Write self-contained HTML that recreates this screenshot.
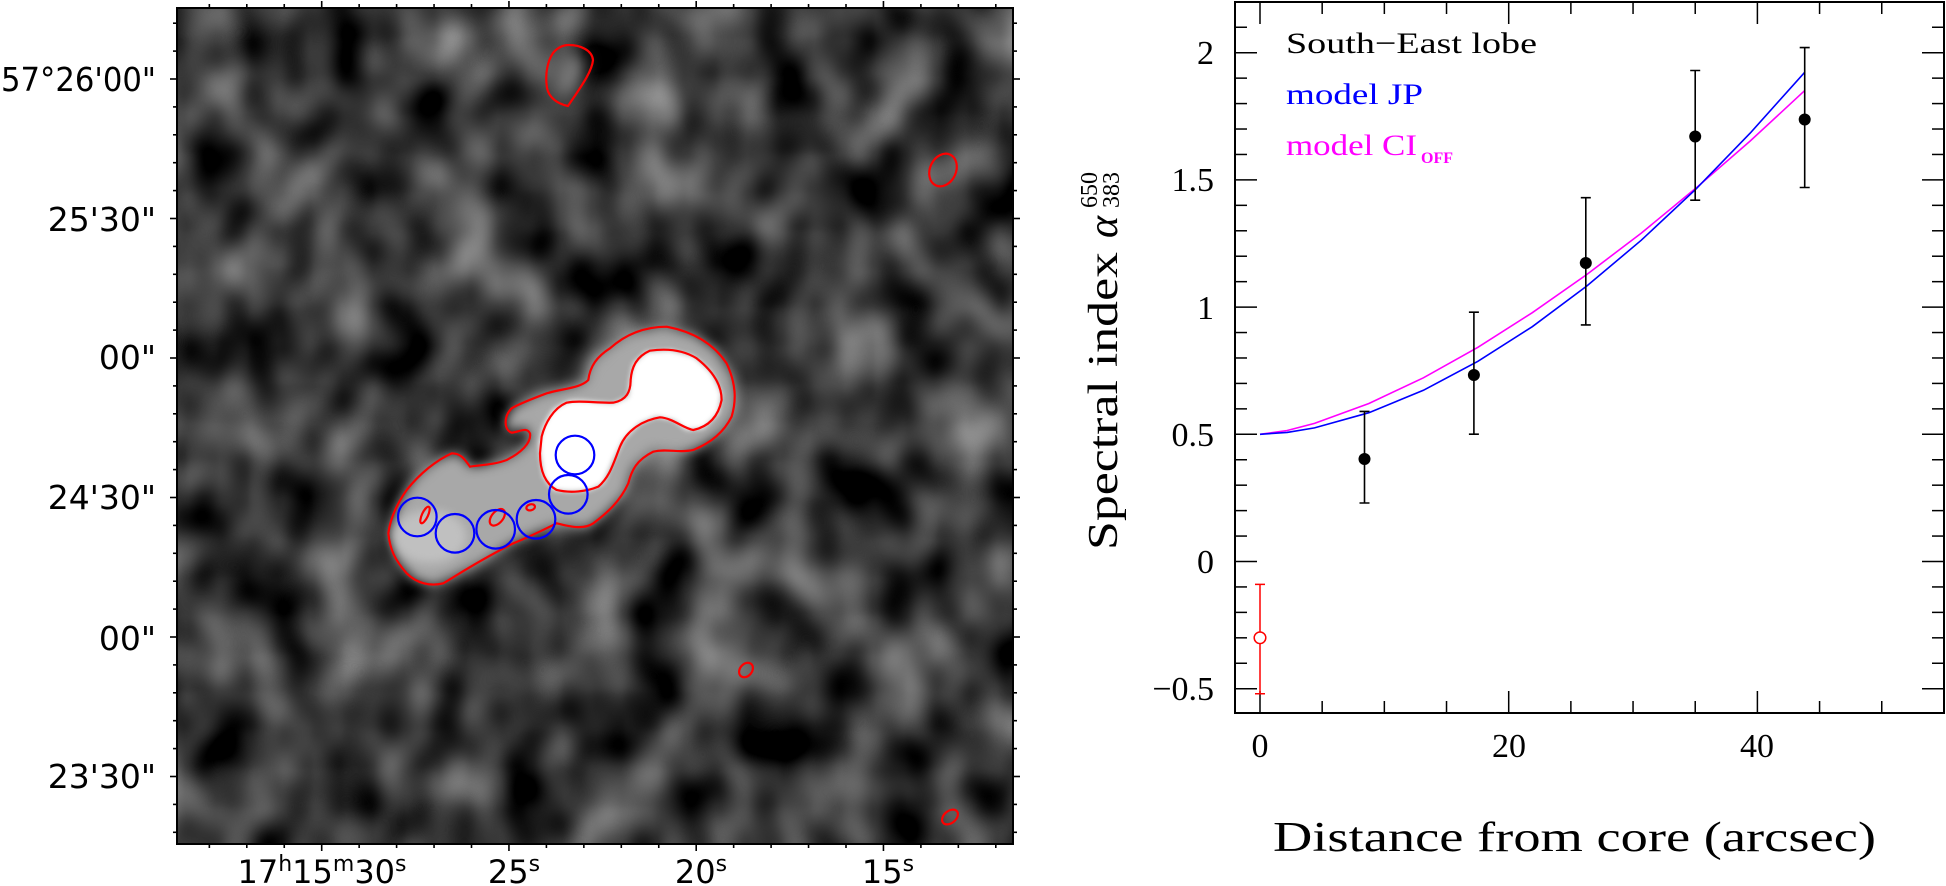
<!DOCTYPE html>
<html><head><meta charset="utf-8">
<style>
html,body{margin:0;padding:0;background:#fff;}
svg{display:block;}
</style></head>
<body>
<svg id="s" width="1946" height="886" viewBox="0 0 1946 886" xmlns="http://www.w3.org/2000/svg">
<defs>
<clipPath id="imgclip"><rect x="177" y="8" width="836" height="836"/></clipPath>
<filter id="noise" x="177" y="8" width="836" height="836" filterUnits="userSpaceOnUse" color-interpolation-filters="sRGB">
<feTurbulence type="fractalNoise" baseFrequency="0.016 0.013" numOctaves="2" seed="7" result="t"/>
<feColorMatrix in="t" type="matrix" values="0.95 0 0 0 -0.25  0.95 0 0 0 -0.25  0.95 0 0 0 -0.25  0 0 0 0 1"/>
</filter>
<filter id="b18" x="-50%" y="-50%" width="200%" height="200%" color-interpolation-filters="sRGB"><feGaussianBlur stdDeviation="18"/></filter>
<filter id="b14" x="-50%" y="-50%" width="200%" height="200%" color-interpolation-filters="sRGB"><feGaussianBlur stdDeviation="14"/></filter>
<filter id="b8" x="-50%" y="-50%" width="200%" height="200%" color-interpolation-filters="sRGB"><feGaussianBlur stdDeviation="8"/></filter>
</defs>

<!-- LEFT PANEL -->
<g clip-path="url(#imgclip)">
<rect x="177" y="8" width="836" height="836" fill="#333"/>
<rect x="177" y="8" width="836" height="836" filter="url(#noise)"/>
<g transform="translate(380,320) scale(0.3333)">
<path filter="url(#b18)" fill="#a8a8a8" d="M25,640 L50,720 100,780 160,798 220,770 300,720 400,670 470,640 530,610 620,625 680,580 740,520 760,440 820,390 900,400 960,380 1030,330 1065,260 1060,170 1010,90 940,40 850,20 760,40 690,80 640,130 620,180 580,200 500,220 450,240 400,260 375,300 380,335 420,330 445,320 450,360 400,410 330,430 270,440 250,410 220,400 170,420 100,480 50,560 Z"/>
<path filter="url(#b8)" fill="#fff" d="M480,400 L490,470 520,510 570,515 630,510 670,490 700,420 730,360 780,310 830,290 880,300 920,330 970,325 1015,280 1025,220 990,160 940,110 870,90 800,95 760,130 750,180 745,230 700,250 640,245 570,245 520,270 490,320 478,370 Z"/>
<ellipse cx="590" cy="360" rx="90" ry="110" fill="#fff" filter="url(#b14)"/>
<ellipse cx="900" cy="200" rx="100" ry="80" fill="#fff" filter="url(#b14)"/>
<ellipse cx="150" cy="650" rx="110" ry="80" fill="#c0c0c0" filter="url(#b14)"/>
</g>
<ellipse cx="569" cy="75" rx="14" ry="24" fill="#777" filter="url(#b8)" transform="rotate(20 569 75)"/>

<g fill="none" stroke="#ff0000" stroke-width="2.2">
<g transform="translate(380,320) scale(0.3333)" stroke-width="6.6">
<path d="M25,640 C30,690 45,720 80,760 C110,790 150,800 190,790 C240,760 300,720 400,670 C450,650 490,630 530,610 C570,620 610,630 640,610 C680,580 720,545 745,490 C755,450 770,420 820,395 C860,385 900,400 940,390 C990,370 1030,340 1055,290 C1070,240 1068,190 1040,130 C1000,70 940,35 860,20 C800,20 740,40 690,85 C650,110 630,140 625,180 C600,205 550,205 500,220 C460,235 420,250 395,265 C370,290 372,330 395,338 C420,335 440,320 450,340 C455,370 420,400 380,420 C340,435 300,435 270,440 C255,420 245,400 215,400 C170,420 120,460 80,510 C45,560 30,600 25,640 Z"/>
<path d="M480,400 C480,450 495,490 530,510 C570,520 620,515 655,500 C690,470 700,430 720,380 C740,330 790,300 840,292 C880,295 910,325 940,330 C985,320 1015,290 1025,240 C1025,190 995,150 950,115 C910,90 860,85 810,92 C770,110 755,140 752,180 C752,215 740,240 700,248 C650,250 600,240 560,248 C520,265 495,310 485,350 Z"/>
<ellipse cx="135" cy="585" rx="9" ry="27" transform="rotate(25 135 585)"/>
<ellipse cx="352" cy="592" rx="17" ry="29" transform="rotate(40 352 592)"/>
<ellipse cx="452" cy="562" rx="13" ry="9" transform="rotate(-15 452 562)"/>
</g>
<path d="M569,45 C580,45 592,50 593,60 C592,72 580,88 568,106 C558,104 549,98 547,88 C545,75 547,62 553,53 C558,47 563,45 569,45 Z"/>
<ellipse cx="943" cy="170" rx="13" ry="17" transform="rotate(25 943 170)"/>
<ellipse cx="746" cy="670" rx="6" ry="8" transform="rotate(40 746 670)"/>
<ellipse cx="950" cy="817" rx="6" ry="9" transform="rotate(50 950 817)"/>
</g>
<g fill="none" stroke="#0000ff" stroke-width="2.2">
<circle cx="575" cy="455" r="19.3"/>
<circle cx="568.3" cy="494.3" r="19.3"/>
<circle cx="417.3" cy="517" r="19.3"/>
<circle cx="455" cy="533.3" r="19.3"/>
<circle cx="495.7" cy="529.3" r="19.3"/>
<circle cx="536" cy="519.3" r="19.3"/>
</g>
</g>
<rect x="177" y="8" width="836" height="836" fill="none" stroke="#000" stroke-width="2"/>
<g id="lticks" stroke="#000" stroke-width="1.6"></g>
<g font-family="'DejaVu Sans', sans-serif" font-size="33" fill="#000" text-anchor="end">
<text x="156" y="91" textLength="155" lengthAdjust="spacingAndGlyphs">57°26'00"</text>
<text x="156" y="231">25'30"</text>
<text x="156" y="369">00"</text>
<text x="156" y="509">24'30"</text>
<text x="156" y="650">00"</text>
<text x="156" y="788">23'30"</text>
</g>
<g font-family="'DejaVu Sans', sans-serif" font-size="32" fill="#000" text-anchor="middle">
<text x="322" y="883">17<tspan font-size="22" dy="-12">h</tspan><tspan dy="12">15</tspan><tspan font-size="22" dy="-12">m</tspan><tspan dy="12">30</tspan><tspan font-size="22" dy="-12">s</tspan></text>
<text x="514" y="883">25<tspan font-size="22" dy="-12">s</tspan></text>
<text x="701" y="883">20<tspan font-size="22" dy="-12">s</tspan></text>
<text x="888" y="883">15<tspan font-size="22" dy="-12">s</tspan></text>
</g>

<!-- RIGHT PANEL -->
<rect x="1235" y="2" width="709" height="711" fill="none" stroke="#000" stroke-width="2"/>
<g id="rticks" stroke="#000" stroke-width="1.5"></g>
<g fill="none" stroke-width="1.6">
<polyline stroke="#ff00ff" points="1260,434.3 1287.2,430.5 1314.5,423.4 1368.9,403.5 1423.4,377.8 1477.9,347.3 1532.3,312.7 1586.8,274.5 1641.3,233.1 1695.7,188.3 1750.2,141 1804.7,90.6"/>
<polyline stroke="#0000ff" points="1260,434.3 1287.2,432.4 1314.5,427.9 1368.9,412.7 1423.4,390.3 1477.9,361.3 1532.3,326.7 1586.8,286 1641.3,240.2 1695.7,189.3 1750.2,133.1 1804.7,72.3"/>
</g>
<g stroke="#000" stroke-width="1.6" fill="#000">
<path d="M1364.5,503 V411.4 M1359.5,503 H1369.5 M1359.5,411.4 H1369.5"/>
<path d="M1473.9,434.2 V312.2 M1468.9,434.2 H1478.9 M1468.9,312.2 H1478.9"/>
<path d="M1585.8,324.9 V197.7 M1580.8,324.9 H1590.8 M1580.8,197.7 H1590.8"/>
<path d="M1695.2,200.2 V70.5 M1690.2,200.2 H1700.2 M1690.2,70.5 H1700.2"/>
<path d="M1804.7,187.5 V47.6 M1799.7,187.5 H1809.7 M1799.7,47.6 H1809.7"/>
<circle cx="1364.5" cy="459" r="6" stroke="none"/>
<circle cx="1473.9" cy="375" r="6" stroke="none"/>
<circle cx="1585.8" cy="263" r="6" stroke="none"/>
<circle cx="1695.2" cy="136.5" r="6" stroke="none"/>
<circle cx="1804.7" cy="119.5" r="6" stroke="none"/>
</g>
<g stroke="#ff0000" stroke-width="1.5" fill="none">
<path d="M1260,693.8 V644 M1260,631.6 V584.4 M1255,693.8 H1265 M1255,584.4 H1265"/>
<circle cx="1260" cy="637.8" r="5.8"/>
</g>
<g font-family="'Liberation Serif', serif" font-size="34" fill="#000" text-anchor="end">
<text x="1214" y="64">2</text>
<text x="1214" y="191">1.5</text>
<text x="1214" y="319">1</text>
<text x="1214" y="446">0.5</text>
<text x="1214" y="573">0</text>
<text x="1214" y="700">−0.5</text>
</g>
<g font-family="'Liberation Serif', serif" font-size="34" fill="#000" text-anchor="middle">
<text x="1260" y="757">0</text>
<text x="1509" y="757">20</text>
<text x="1757" y="757">40</text>
</g>
<g font-family="'Liberation Serif', serif" font-size="30">
<text x="1286" y="53" fill="#000" textLength="251" lengthAdjust="spacingAndGlyphs">South−East lobe</text>
<text x="1286" y="104" fill="#0000ff" textLength="137" lengthAdjust="spacingAndGlyphs">model JP</text>
<text x="1286" y="155" fill="#ff00ff" textLength="131" lengthAdjust="spacingAndGlyphs">model CI</text>
<text x="1421" y="163" fill="#ff00ff" font-size="16" font-weight="bold" textLength="32" lengthAdjust="spacingAndGlyphs">OFF</text>
</g>
<text x="1273" y="851" font-family="'Liberation Serif', serif" font-size="42" fill="#000" textLength="603" lengthAdjust="spacingAndGlyphs">Distance from core (arcsec)</text>
<g transform="translate(1117,550) rotate(-90)" font-family="'Liberation Serif', serif" fill="#000">
<text x="0" y="0" font-size="42" textLength="298" lengthAdjust="spacingAndGlyphs">Spectral index</text>
<text x="312" y="0" font-size="42" font-style="italic">α</text>
<text x="342" y="-20" font-size="24">650</text>
<text x="342" y="2" font-size="24">383</text>
</g>
</svg>
<script>
(function(){
var NS="http://www.w3.org/2000/svg";
function ln(g,x1,y1,x2,y2){var l=document.createElementNS(NS,"line");l.setAttribute("x1",x1);l.setAttribute("y1",y1);l.setAttribute("x2",x2);l.setAttribute("y2",y2);g.appendChild(l);}
var L=document.getElementById("lticks");
for(var i=-2;i<=28;i++){var y=79+i*27.9;if(y<9||y>843)continue;var maj=(i%5===0);var len=maj?7:4;ln(L,177-len,y,177,y);ln(L,1013,y,1013+len,y);}
for(var j=-12;j<=30;j++){var x=321.7+j*37.45;if(x<178||x>1012)continue;var mj=(j%5===0);var ln2=mj?7:4;ln(L,x,844,x,844+ln2);ln(L,x,8-ln2,x,8);}
var R=document.getElementById("rticks");
for(var k=-5;k<=21;k++){var v=k/10;var yy=561.5-254.4*v;if(yy<3||yy>712)continue;var M=(k%5===0);var tl=M?22:12;ln(R,1235,yy,1235+tl,yy);ln(R,1944-tl,yy,1944,yy);}
for(var m=0;m<=11;m++){var xv=m*5;var xx=1260+12.435*xv;if(xx>1943)continue;var MM=(m%4===0);var t2=MM?22:12;ln(R,xx,713-t2,xx,713);ln(R,xx,2,xx,2+t2);}
})();
</script>
</body></html>
